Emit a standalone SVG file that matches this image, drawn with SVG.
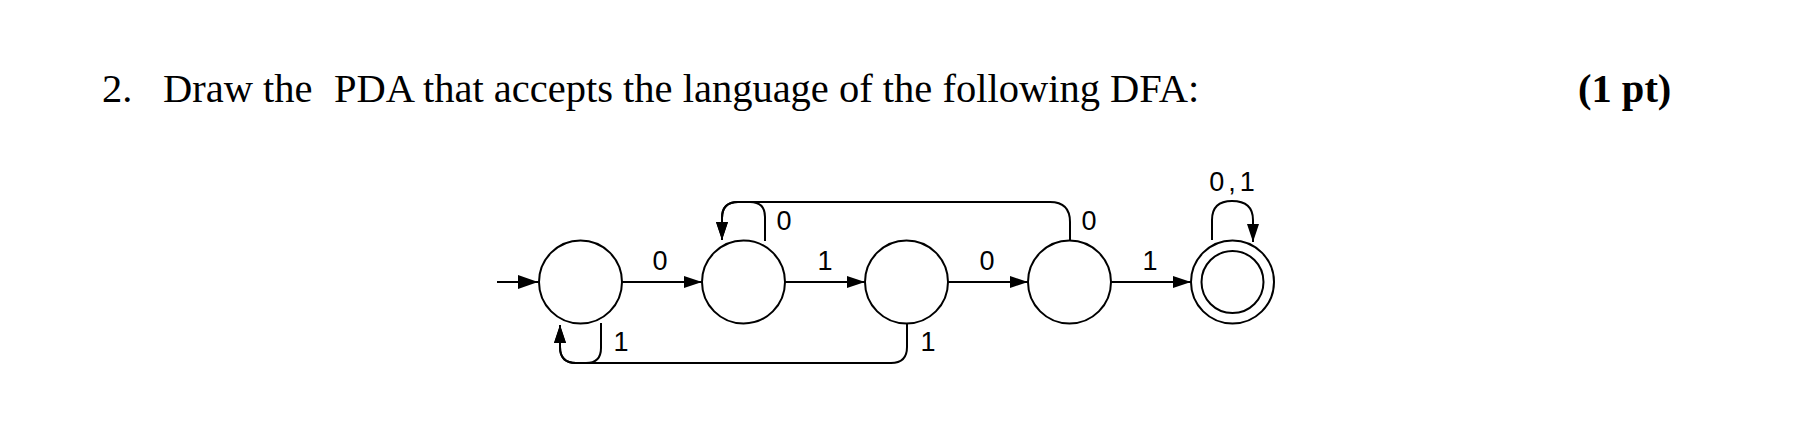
<svg xmlns="http://www.w3.org/2000/svg" width="1804" height="448" viewBox="0 0 1804 448">
<style>
.title{font-family:"Liberation Serif","Times New Roman",serif;font-size:40.5px;fill:#000}
.bold{font-weight:bold}
.st{fill:none;stroke:#000;stroke-width:2}
.ed{fill:none;stroke:#000;stroke-width:2}
.lbl{font-family:"Liberation Sans",Arial,sans-serif;font-size:27px;fill:#000;text-anchor:middle}
</style>
<defs>
<marker id="arr" markerUnits="userSpaceOnUse" markerWidth="18" markerHeight="12" refX="18" refY="6" orient="auto">
<path d="M0,0 L18,6 L0,12 z" fill="#000"/>
</marker>
<marker id="arrS" markerUnits="userSpaceOnUse" markerWidth="20" markerHeight="14" refX="20" refY="7" orient="auto">
<path d="M0,0 L20,7 L0,14 z" fill="#000"/>
</marker>
</defs>
<rect width="1804" height="448" fill="#fff"/>
<g id="title">
<text class="title" x="102" y="102">2.</text>
<text class="title" x="163" y="102">Draw the</text>
<text class="title" x="334" y="102">PDA that accepts the language of the following DFA:</text>
<text class="title bold" x="1578" y="102">(1 pt)</text>
</g>
<g id="connectors">
<path class="ed" d="M497,282 H538" stroke-width="4" marker-end="url(#arrS)"/>
<path class="ed" d="M622,282 H702" marker-end="url(#arr)"/>
<path class="ed" d="M785,282 H865" marker-end="url(#arr)"/>
<path class="ed" d="M948,282 H1028" marker-end="url(#arr)"/>
<path class="ed" d="M1111,282 H1191" marker-end="url(#arr)"/>
<path class="ed" d="M765,241 V217 Q765,202 750,202 H738 Q722,202 722,218 V240" marker-end="url(#arr)"/>
<path class="ed" d="M1070,241 V222 Q1070,202 1050,202 H738 Q722,202 722,218 V240" marker-end="url(#arr)"/>
<path class="ed" d="M1212,240 V220 Q1212,201 1232,201 Q1253,201 1253,220 V242" marker-end="url(#arr)"/>
<path class="ed" d="M601,323 V348 Q601,363 586,363 H576 Q560,363 560,347 V325" marker-end="url(#arr)"/>
<path class="ed" d="M907,323 V347 Q907,363 891,363 H576 Q560,363 560,347 V325" marker-end="url(#arr)"/>
</g>
<g id="labels">
<text class="lbl" x="660" y="270">0</text>
<text class="lbl" x="825" y="270">1</text>
<text class="lbl" x="987" y="270">0</text>
<text class="lbl" x="1150" y="270">1</text>
<text class="lbl" x="784" y="230">0</text>
<text class="lbl" x="1089" y="230">0</text>
<text class="lbl" x="1234" y="191" letter-spacing="4">0,1</text>
<text class="lbl" x="621" y="351">1</text>
<text class="lbl" x="928" y="351">1</text>
</g>
<g id="q0"><circle class="st" cx="580.5" cy="282" r="41.5"/></g>
<g id="q1"><circle class="st" cx="743.5" cy="282" r="41.5"/></g>
<g id="q2"><circle class="st" cx="906.5" cy="282" r="41.5"/></g>
<g id="q3"><circle class="st" cx="1069.5" cy="282" r="41.5"/></g>
<g id="q4"><circle class="st" cx="1232.5" cy="282" r="41.5"/><circle class="st" cx="1232.5" cy="282" r="31"/></g>
</svg>
